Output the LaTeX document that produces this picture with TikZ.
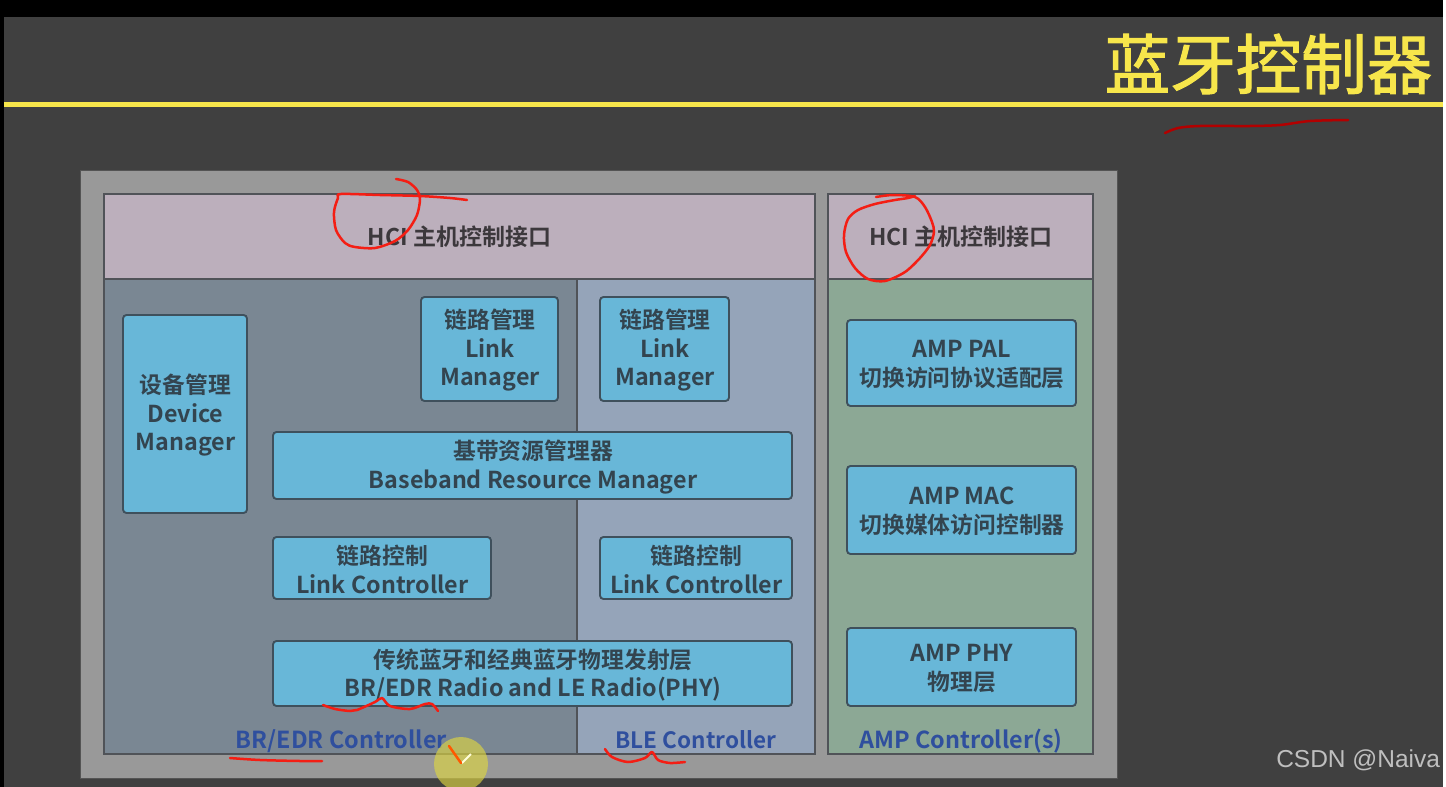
\documentclass[tikz,border=0pt]{standalone}
\usepackage{fontspec}
\setmainfont{Noto Sans CJK SC}[BoldFont={Noto Sans CJK SC Bold}]
\newfontfamily\wmfont{Liberation Sans}
\newfontfamily\titlefont{Noto Sans CJK SC}[FakeBold=1.6]
\definecolor{bgdark}{HTML}{404040}
\definecolor{panelgrey}{HTML}{999999}
\definecolor{hcifill}{HTML}{BCAFBC}
\definecolor{brfill}{HTML}{7A8793}
\definecolor{blefill}{HTML}{95A4B9}
\definecolor{ampfill}{HTML}{8CA895}
\definecolor{blockblue}{HTML}{68B7D8}
\definecolor{blockline}{HTML}{3F505C}
\definecolor{blocktext}{HTML}{33444F}
\definecolor{frameline}{HTML}{505358}
\definecolor{labelblue}{HTML}{2F4F9E}
\definecolor{titleyellow}{HTML}{F7E64B}
\definecolor{inkred}{HTML}{F41E14}
\newcommand{\en}[1]{{\fontsize{23.3}{28.5}\selectfont #1}}
\tikzset{
 x=1pt,y=-1pt,
 every node/.style={inner sep=0pt,outer sep=0pt},
 region/.style={draw=frameline,line width=1.8pt,rectangle},
 blockbox/.style={draw=blockline,line width=1.9pt,fill=blockblue,rounded corners=3.5pt,rectangle},
 blocklabel/.style={text=blocktext,align=center,font=\fontsize{22.8}{28.5}\selectfont\bfseries},
 regionlabel/.style={text=labelblue,font=\fontsize{23.4}{28}\selectfont\bfseries},
 hcilabel/.style={text=black!68!hcifill,font=\fontsize{23}{26}\selectfont\bfseries},
 scribble/.style={draw=inkred,line width=2.5pt,line cap=round,line join=round},
}
\newcommand{\block}[6]{\node[blockbox,minimum width=#4-#2 pt,minimum height=#5-#3 pt,anchor=center] (#1) at ({(#2+#4)/2},{(#3+#5)/2}) {};
 \node[blocklabel] (#1t) at ({(#2+#4)/2+.5},{(#3+#5)/2+1.5}) {#6};}
\begin{document}
\begin{tikzpicture}
\useasboundingbox (0,0) rectangle (1446,787);
\fill[black] (0,0) rectangle (1446,787);
\fill[bgdark] (4,17) rectangle (1446,787);
\fill[titleyellow] (4,102) rectangle (1446,107);
\node[text=titleyellow,font=\titlefont\fontsize{65.5}{65.5}\selectfont,anchor=center] (title) at (1268.5,64) {蓝牙控制器};
\fill[white] (1443,0) rectangle (1446,787);

\fill[panelgrey,draw=black!45!panelgrey,line width=1pt] (80.5,170) rectangle (1117,778);
\path[fill=hcifill] (104,194) rectangle (815,279);
\path[fill=brfill] (104,279) rectangle (577,754);
\path[fill=blefill] (577,279) rectangle (815,754);
\path[fill=hcifill] (828,194) rectangle (1093,279);
\path[fill=ampfill] (828,279) rectangle (1093,754);
\draw[region] (104,194) rectangle (815,754);
\draw[region] (104,279) -- (815,279);
\draw[region] (577,279) -- (577,754);
\draw[region] (828,194) rectangle (1093,754);
\draw[region] (828,279) -- (1093,279);

\node[hcilabel] (hcileft) at (459.5,237) {HCI 主机控制接口};
\node[hcilabel] (hciright) at (961,237) {HCI 主机控制接口};

\block{dm}{123}{315}{247}{513}{设备管理\\\en{Device}\\\en{Manager}}
\block{lma}{421}{297}{558}{401}{链路管理\\\en{Link}\\\en{Manager}}
\block{lmb}{600}{297}{729}{401}{链路管理\\\en{Link}\\\en{Manager}}
\block{bb}{273}{432}{792}{499}{基带资源管理器\\\en{Baseband Resource Manager}}
\block{lca}{273}{537}{491}{599}{链路控制\\\en{Link Controller}}
\block{lcb}{600}{537}{792}{599}{链路控制\\\en{Link Controller}}
\block{phy}{273}{641}{792}{706}{传统蓝牙和经典蓝牙物理发射层\\\en{BR/EDR Radio and LE Radio(PHY)}}
\block{pal}{847}{320}{1076}{406}{\en{AMP PAL}\\切换访问协议适配层}
\block{mac}{847}{466}{1076}{554}{\en{AMP MAC}\\切换媒体访问控制器}
\block{aphy}{847}{628}{1076}{706}{\en{AMP PHY}\\物理层}

\node[regionlabel] (brlabel) at (341.5,741) {BR/EDR Controller};
\node[regionlabel,font=\fontsize{22.5}{28}\selectfont\bfseries] (blelabel) at (696,740) {BLE Controller};
\node[regionlabel] (amplabel) at (961,741) {AMP Controller(s)};

\node[text=black!25!white,font=\wmfont\fontsize{24.5}{25}\selectfont,anchor=east] (wm) at (1440,760) {CSDN @Naiva};

% cursor
\fill[yellow!70!gray,opacity=.65] (461,764) circle (27);
\draw[line width=2pt,draw=white!85!yellow] (471,754) -- (462,763);
\draw[line width=2.5pt,draw=orange!70!red,line cap=round] (449,746) -- (461,763);

% ink
\draw[scribble,draw=red!70!black] plot[smooth,tension=.5] coordinates {(1165,133) (1178,128) (1200,126) (1250,126) (1280,125) (1310,121) (1348,120)};
\draw[scribble] plot[smooth,tension=.5] coordinates {(396,179) (408,182) (417,190) (420,199) (417,215) (408,230) (395,241) (375,248) (355,247) (345,243) (336,230) (334,212) (338,198) (341,194) (380,195) (420,196) (450,198) (467,200)};
\draw[scribble] plot[smooth,tension=.5] coordinates {(876,197) (893,195) (915,197) (925,207) (932,222) (934,232) (930,245) (920,258) (905,272) (885,281) (868,279) (855,268) (846,252) (844,235) (848,219) (858,210) (875,204) (895,200) (908,198) (915,196)};
\draw[scribble] plot[smooth,tension=.5] coordinates {(323,705) (335,709) (350,711) (357,710) (375,702) (382,698) (390,706) (410,709) (425,704) (432,704) (438,711)};
\draw[scribble] plot[smooth,tension=.5] coordinates {(230,758) (260,760) (300,761) (322,761)};
\draw[scribble] plot[smooth,tension=.5] coordinates {(605,749) (612,757) (628,762) (645,758) (652,752) (658,760) (670,763) (685,762)};
\end{tikzpicture}
\end{document}
